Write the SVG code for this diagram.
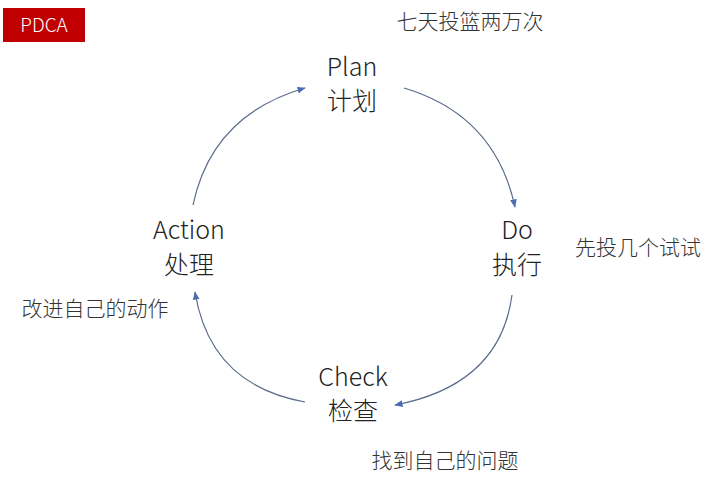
<svg xmlns="http://www.w3.org/2000/svg" width="720" height="488" viewBox="0 0 720 488">
<defs><marker id="ah" viewBox="0 0 10 10" refX="9" refY="5" markerWidth="7" markerHeight="7" orient="auto"><path d="M0,1 L10,5 L0,9 z" fill="#4a6cb3"/></marker>
<style>.t{font-family:"Noto Sans CJK SC","Noto Sans",sans-serif;fill:#222;font-weight:300}.big{font-size:25px}.sm{font-size:21px;fill:#333}.c{fill:none;stroke:#5a6a8a;stroke-width:1.2;marker-end:url(#ah)}</style></defs>
<rect width="720" height="488" fill="#fff"/>
<g id="pdca"><rect x="3" y="8" width="82" height="34" fill="#c00000"/><text x="44" y="32" text-anchor="middle" class="t" style="fill:#fff;font-size:19px">PDCA</text></g>
<g id="plan"><text x="352" y="76" text-anchor="middle" class="t big">Plan</text><text x="352" y="110" text-anchor="middle" class="t big">计划</text></g>
<g id="do"><text x="517" y="239" text-anchor="middle" class="t big">Do</text><text x="517" y="274" text-anchor="middle" class="t big">执行</text></g>
<g id="check"><text x="353" y="386" text-anchor="middle" class="t big">Check</text><text x="353" y="420" text-anchor="middle" class="t big">检查</text></g>
<g id="action"><text x="189" y="239" text-anchor="middle" class="t big">Action</text><text x="189" y="274" text-anchor="middle" class="t big">处理</text></g>
<text x="470" y="29" text-anchor="middle" class="t sm">七天投篮两万次</text>
<text x="638" y="255" text-anchor="middle" class="t sm">先投几个试试</text>
<text x="95" y="316" text-anchor="middle" class="t sm">改进自己的动作</text>
<text x="445" y="468" text-anchor="middle" class="t sm">找到自己的问题</text>
<g id="connectors">
<path class="c" d="M404,88 Q495,115 515,207"/>
<path class="c" d="M512,295 Q500,385 395,405"/>
<path class="c" d="M305,402 Q210,385 195,292"/>
<path class="c" d="M193,205 Q212,115 305,88"/>
</g>
</svg>
